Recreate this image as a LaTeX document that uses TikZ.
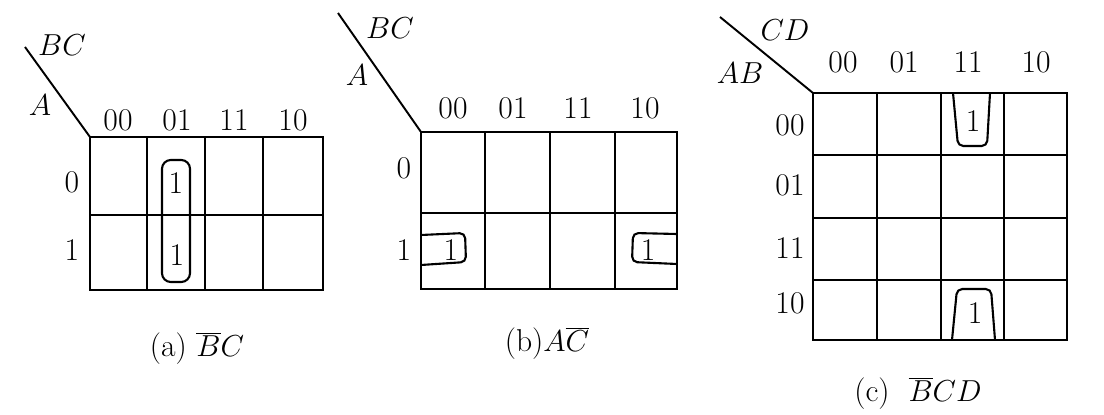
\documentclass[tikz,border=0pt]{standalone}
\begin{document}
\begin{tikzpicture}[x=0.02cm, y=-0.02cm, every node/.style={inner sep=0pt, font=\fontsize{18}{21}\selectfont},
	gridline/.style={line width=1.6pt},
	corner/.style={line width=1.1pt},
	loopline/.style={line width=1.2pt, rounded corners=3pt}]
	\useasboundingbox (0,0) rectangle (1104,415);
	
	% Map (a)
	\coordinate (a0) at (90,137);
	\coordinate (aS) at (25,47);
	\draw[corner] (aS) -- (a0);
	\node (aBC) at (62,45) {$BC$};
	\node (aA) at (40,105) {$A$};
	\draw[gridline] (90,137) rectangle (323,290);
	\draw[gridline] (90,215) -- (323,215);
	\foreach \x in {147,205,263}
		\draw[gridline] (\x,137) -- (\x,290);
	\foreach \x/\t in {118/00,177/01,234/11,293/10}
		\node (acol\t) at (\x,120) {\t};
	\node (arow0) at (72,182) {0};
	\node (arow1) at (72,250) {1};
	\node (aone1) at (176,183) {1};
	\node (aone2) at (177,255) {1};
	\draw[loopline, rounded corners=5pt] (162,160) rectangle (190,282);
	\node (acap) at (197,348) {(a) $\overline{B}C$};
	
	% Map (b)
	\coordinate (b0) at (421,132);
	\coordinate (bS) at (338,13);
	\draw[corner] (bS) -- (b0);
	\node (bBC) at (390,28) {$BC$};
	\node (bA) at (357,75) {$A$};
	\draw[gridline] (421,132) rectangle (677,289);
	\draw[gridline] (421,213) -- (677,213);
	\foreach \x in {485,550,615}
		\draw[gridline] (\x,132) -- (\x,289);
	\foreach \x/\t in {453/00,513/01,578/11,645/10}
		\node (bcol\t) at (\x,108) {\t};
	\node (brow0) at (404,168) {0};
	\node (brow1) at (404,250) {1};
	\node (bone1) at (451,250) {1};
	\node (bone2) at (648,250) {1};
	\draw[loopline] (421,235) -- (465,233) -- (466,262) -- (421,265);
	\draw[loopline] (677,234) -- (633,233) -- (632,262) -- (677,264);
	\node (bcap) at (547,343) {(b)$A\overline{C}$};
	
	% Map (c)
	\coordinate (c0) at (813,93);
	\coordinate (cS) at (720,17);
	\draw[corner] (cS) -- (c0);
	\node (cCD) at (785,30) {$CD$};
	\node (cAB) at (740,73) {$AB$};
	\draw[gridline] (813,93) rectangle (1067,340);
	\foreach \y in {155,218,280}
		\draw[gridline] (813,\y) -- (1067,\y);
	\foreach \x in {877,941,1004}
		\draw[gridline] (\x,93) -- (\x,340);
	\foreach \x/\t in {843/00,904/01,968/11,1036/10}
		\node (ccol\t) at (\x,62) {\t};
	\foreach \y/\t in {125/00,185/01,248/11,303/10}
		\node (crow\t) at (790,\y) {\t};
	\node (cone1) at (973,121) {1};
	\node (cone2) at (975,313) {1};
	\draw[loopline] (953,93) -- (958,146) -- (987,146) -- (990,93);
	\draw[loopline] (952,340) -- (957,289) -- (991,289) -- (995,340);
	\node (ccap) at (918,393) {(c) \ $\overline{B}CD$};
\end{tikzpicture}
\end{document}
